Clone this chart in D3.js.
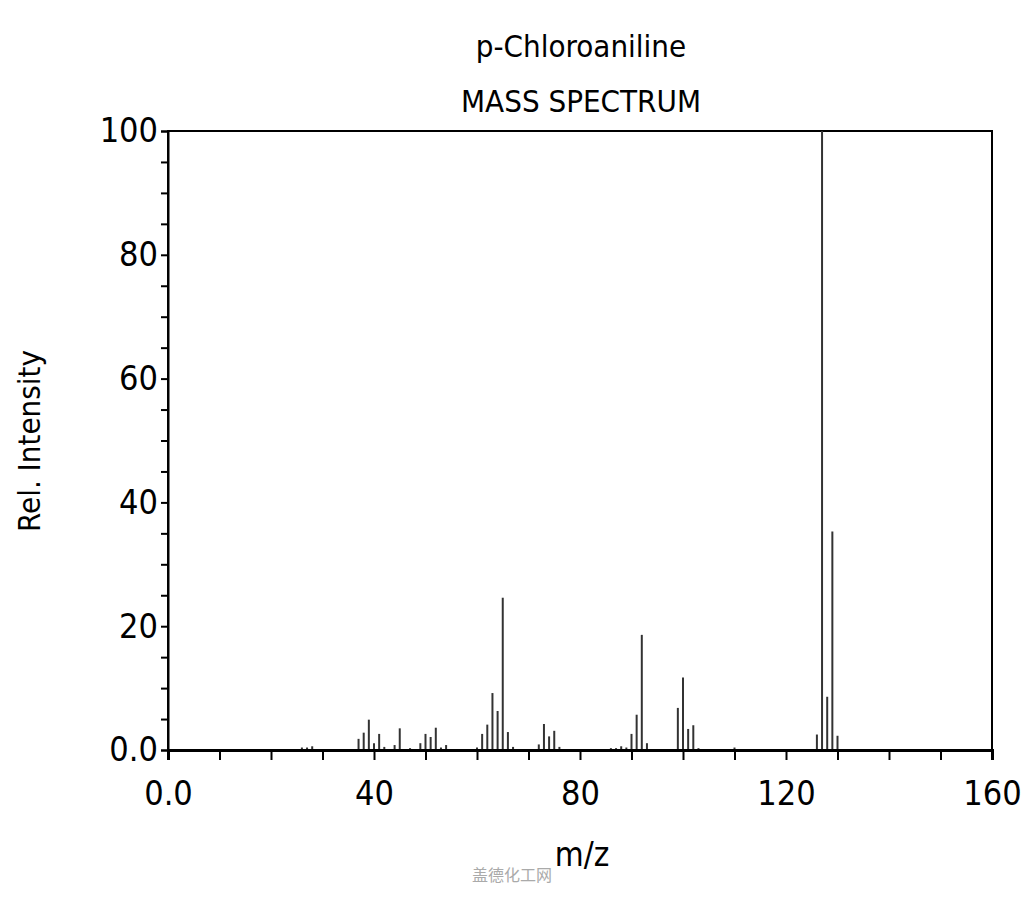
<!DOCTYPE html>
<html><head><meta charset="utf-8">
<script src="https://cdn.jsdelivr.net/npm/d3@7"></script>
<style>body{margin:0;background:#fff}</style></head>
<body><svg id="c" width="1024" height="900"></svg>
<script>
const mz = [26,27,28,37,38,39,40,41,42,44,45,47,49,50,51,52,53,54,60,61,62,63,64,65,66,67,72,73,74,75,76,86,87,88,89,90,91,92,93,99,100,101,102,103,110,126,127,128,129,130];
const intensity = [0.4,0.4,0.6,1.8,2.8,4.9,1.1,2.6,0.5,0.8,3.5,0.3,1.1,2.6,2.1,3.6,0.4,0.8,0.4,2.6,4.1,9.2,6.3,24.6,2.9,0.5,0.9,4.2,2.2,3.1,0.5,0.3,0.3,0.6,0.4,2.6,5.7,18.6,1.1,6.8,11.7,3.4,4.0,0.3,0.4,2.5,100,8.6,35.3,2.3];
const xTickLabels = ["0.0","40","80","120","160"];
const yTickLabels = ["0.0","20","40","60","80","100"];
const title = ["p-Chloroaniline","MASS SPECTRUM"];

const svg = d3.select("#c");
const L=168,R=992,T=131,B=750;
const x = d3.scaleLinear().domain([0,160]).range([L,R]);
const y = d3.scaleLinear().domain([0,100]).range([B,T]);
const font = "DejaVu Sans Condensed, DejaVu Sans, sans-serif";

svg.append("rect").attr("x",L).attr("y",T).attr("width",R-L).attr("height",B-T)
  .attr("fill","none").attr("stroke","#000").attr("stroke-width",2);

svg.append("g").selectAll("line").data(mz).join("line")
  .attr("x1",d=>x(d)).attr("x2",d=>x(d))
  .attr("y1",y(0)).attr("y2",(d,i)=>y(intensity[i]))
  .attr("stroke","#333").attr("stroke-width",2);

const xa = svg.append("g").attr("transform",`translate(0,${B})`)
  .call(d3.axisBottom(x).tickValues(d3.range(0,161,10)).tickSize(10)
    .tickFormat(d=> d%40===0 ? xTickLabels[d/40] : ""));
xa.select(".domain").attr("stroke-width",3);
xa.selectAll(".tick line").attr("stroke-width",2);
xa.selectAll("text").attr("font-family",font).attr("font-size",34).attr("y",24).attr("dy","0.9em").attr("fill","#000");

const ya = svg.append("g").attr("transform",`translate(${L},0)`)
  .call(d3.axisLeft(y).tickValues(d3.range(0,101,5)).tickSize(7)
    .tickFormat(d=> d%20===0 ? yTickLabels[d/20] : ""));
ya.select(".domain").attr("stroke-width",2);
ya.selectAll(".tick line").attr("stroke-width",2);
ya.selectAll("text").attr("font-family",font).attr("font-size",34).attr("fill","#000").attr("x",-10);

svg.append("text").attr("x",582).attr("y",866).attr("text-anchor","middle")
  .attr("font-family",font).attr("font-size",33).text("m/z");
svg.append("text").attr("transform","translate(40,441) rotate(-90)").attr("text-anchor","middle")
  .attr("font-family",font).attr("font-size",31).text("Rel. Intensity");
title.forEach((t,i)=>svg.append("text").attr("x",581).attr("y",[57,112][i])
  .attr("text-anchor","middle").attr("font-family",font).attr("font-size",31).text(t));
svg.append("text").attr("x",512).attr("y",881).attr("text-anchor","middle")
  .attr("font-family","Noto Sans CJK SC").attr("font-size",16).attr("fill","#aaa").text("盖德化工网");
</script></body></html>
